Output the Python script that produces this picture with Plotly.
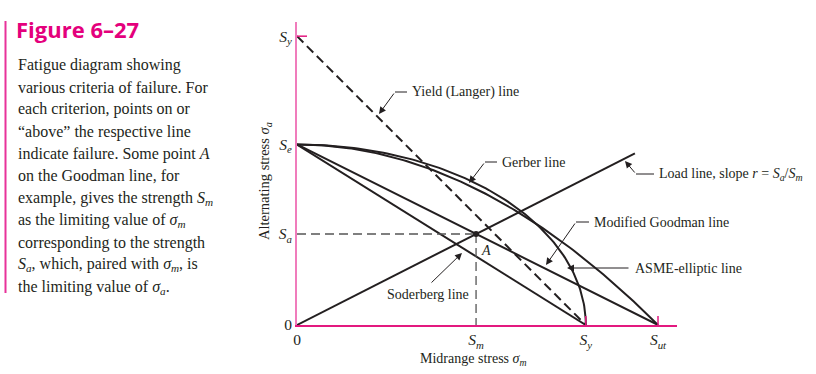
import numpy as np
import plotly.graph_objects as go

# ---- data (same stress units on both axes) ----
Se = 50.0      # endurance limit on alternating axis
Sy = 80.0      # yield strength
Sut = 100.0    # ultimate strength
Sm_A = 49.6    # point A midrange strength
Sa_A = 25.2    # point A alternating strength
load_end_m = 93.6  # end of drawn load line (midrange)

x_tick_vals = [0, Sm_A, Sy, Sut]
x_tick_text = ["0", "<i>S<sub>m</sub></i>", "<i>S<sub>y</sub></i>", "<i>S<sub>ut</sub></i>"]
y_tick_vals = [0, Sa_A, Se, Sy]
y_tick_text = ["0", "<i>S<sub>a</sub></i>", "<i>S<sub>e</sub></i>", "<i>S<sub>y</sub></i>"]

caption_lines = [
    "Fatigue diagram showing",
    "various criteria of failure. For",
    "each criterion, points on or",
    "\u201cabove\u201d the respective line",
    "indicate failure. Some point <i>A</i>",
    "on the Goodman line, for",
    "example, gives the strength <i>S<sub>m</sub></i>",
    "as the limiting value of <i>\u03c3<sub>m</sub></i>",
    "corresponding to the strength",
    "<i>S<sub>a</sub></i>, which, paired with <i>\u03c3<sub>m</sub></i>, is",
    "the limiting value of <i>\u03c3<sub>a</sub></i>.",
]

# criterion curves from the strengths
t = np.linspace(0, np.pi / 2, 120)
asme_m = Sy * np.sin(t)
asme_a = Se * np.cos(t)
gerber_m = np.linspace(0, Sut, 120)
gerber_a = Se * (1 - (gerber_m / Sut) ** 2)
r = Sa_A / Sm_A

# ---- layout geometry (pixels) ----
W, H = 816, 374
L, R, T, B = 297, 677, 22, 325
XR = 105.26
YR = 83.93


def X(px):
    return (px - L) / (R - L) * XR


def Y(py):
    return (B - py) / (B - T) * YR


def PX(px):
    return (px - L) / (R - L)


def PY(py):
    return (B - py) / (B - T)


INK = "#231f20"
MAG = "#e3197f"
SERIF = "Liberation Serif, Times New Roman, serif"

fig = go.Figure()

solid = dict(color=INK, width=2)
fig.add_trace(go.Scatter(x=[0, Sy], y=[Sy, 0], mode="lines",
                         line=dict(color=INK, width=2, dash="9px,5px")))
fig.add_trace(go.Scatter(x=list(gerber_m), y=list(gerber_a), mode="lines", line=solid))
fig.add_trace(go.Scatter(x=list(asme_m), y=list(asme_a), mode="lines", line=solid))
fig.add_trace(go.Scatter(x=[0, Sut], y=[Se, 0], mode="lines", line=solid))
fig.add_trace(go.Scatter(x=[0, Sy], y=[Se, 0], mode="lines", line=solid))
fig.add_trace(go.Scatter(x=[0, load_end_m], y=[0, r * load_end_m], mode="lines", line=solid))
guide = dict(color="#555555", width=1.3, dash="9px,5px")
fig.add_trace(go.Scatter(x=[0, Sm_A], y=[Sa_A, Sa_A], mode="lines", line=guide))
fig.add_trace(go.Scatter(x=[Sm_A, Sm_A], y=[Sa_A, 0], mode="lines", line=guide))
fig.add_trace(go.Scatter(x=[Sm_A], y=[Sa_A], mode="markers",
                         marker=dict(color=INK, size=6), cliponaxis=False))

ann = []
shapes = []
tf = dict(family=SERIF, size=14, color=INK)
tickf = dict(family=SERIF, size=15.5, color=INK)

# leader: (text, text_x, text_y, elbow_x, elbow_y, tip_x, tip_y, horizontal_end_x)
leaders = [
    ("Yield (Langer) line", 410, 92, 395, 92, 379, 114, 407),
    ("Gerber line", 500, 162, 485, 162, 469, 183, 497),
    ("Load line, slope <i>r</i> = <i>S<sub>a</sub></i>/<i>S<sub>m</sub></i>", 657, 174, 636, 174, 625, 161, 654),
    ("Modified Goodman line", 592, 222, 576, 222, 546, 265, 589),
    ("ASME-elliptic line", 633, 268, 630, 268, 567, 268, 630),
]
for txt, tx, ty, ex, ey, kx, ky, hx in leaders:
    ann.append(dict(text=txt, x=PX(tx), y=PY(ty), xref="paper", yref="paper",
                    xanchor="left", yanchor="middle", showarrow=False, font=tf))
    shapes.append(dict(type="line", xref="paper", yref="paper",
                       x0=PX(ex), y0=PY(ey), x1=PX(hx), y1=PY(ey),
                       line=dict(color=INK, width=1)))
    ann.append(dict(text="", x=X(kx), y=Y(ky), xref="x", yref="y",
                    ax=ex - kx, ay=ey - ky, axref="pixel", ayref="pixel",
                    showarrow=True, arrowhead=2, arrowsize=1.4, arrowwidth=1,
                    arrowcolor=INK, standoff=0, startstandoff=0))

# Soderberg label with straight leader
ann.append(dict(text="Soderberg line", x=PX(428), y=PY(294), xref="paper", yref="paper",
                xanchor="center", yanchor="middle", showarrow=False, font=tf))
ann.append(dict(text="", x=X(462), y=Y(253), xref="x", yref="y",
                ax=430 - 462, ay=284 - 253, axref="pixel", ayref="pixel",
                showarrow=True, arrowhead=2, arrowsize=1.4, arrowwidth=1,
                arrowcolor=INK, standoff=0))
ann.append(dict(text="<i>A</i>", x=PX(479), y=PY(250), xref="paper", yref="paper",
                xanchor="left", yanchor="middle", showarrow=False, font=tf))

# axis titles
ann.append(dict(text="Midrange stress <i>\u03c3<sub>m</sub></i>", x=PX(473), y=PY(359),
                xref="paper", yref="paper", xanchor="center", yanchor="middle",
                showarrow=False, font=tf))
ann.append(dict(text="Alternating stress <i>\u03c3<sub>a</sub></i>", x=PX(265), y=PY(181),
                xref="paper", yref="paper", xanchor="center", yanchor="middle",
                textangle=-90, showarrow=False, font=dict(family=SERIF, size=14.5, color=INK)))

# left caption panel
ann.append(dict(text="<b>Figure 6\u201327</b>", x=PX(14), y=PY(29), xref="paper", yref="paper",
                xanchor="left", yanchor="middle", showarrow=False,
                font=dict(family="Open Sans, sans-serif", size=22, color="#e4007c")))
for i, line in enumerate(caption_lines):
    ann.append(dict(text=line, x=PX(16), y=PY(65 + i * 22.2), xref="paper", yref="paper",
                    xanchor="left", yanchor="middle", showarrow=False,
                    font=dict(family=SERIF, size=16, color=INK)))
shapes.append(dict(type="line", xref="paper", yref="paper",
                   x0=PX(5.5), x1=PX(5.5), y0=PY(21), y1=PY(293),
                   line=dict(color="#e8329a", width=2)))

# magenta inner ticks
shapes.append(dict(type="line", xref="x", yref="y", x0=0, x1=X(307), y0=Sy, y1=Sy,
                   line=dict(color=MAG, width=1.5)))
for v in [Sy, Sut]:
    shapes.append(dict(type="line", xref="x", yref="y", x0=v, x1=v, y0=0, y1=Y(316),
                       line=dict(color=MAG, width=1.5)))

fig.update_layout(
    width=W, height=H,
    margin=dict(l=L, r=W - R, t=T, b=H - B, pad=0),
    paper_bgcolor="white", plot_bgcolor="white",
    showlegend=False,
    annotations=ann, shapes=shapes,
    xaxis=dict(range=[0, XR], showgrid=False, zeroline=False, showline=True,
               linecolor=MAG, linewidth=1.5, tickvals=x_tick_vals, ticktext=x_tick_text,
               ticks="", tickfont=tickf, fixedrange=True),
    yaxis=dict(range=[0, YR], showgrid=False, zeroline=False, showline=True,
               linecolor="#f07cbc", linewidth=2, tickvals=y_tick_vals, ticktext=y_tick_text,
               ticks="", tickfont=tickf, fixedrange=True),
)

fig.write_html("out.html", config={"displayModeBar": False},
               post_script="document.body.style.margin='0';document.body.style.overflow='hidden';")
